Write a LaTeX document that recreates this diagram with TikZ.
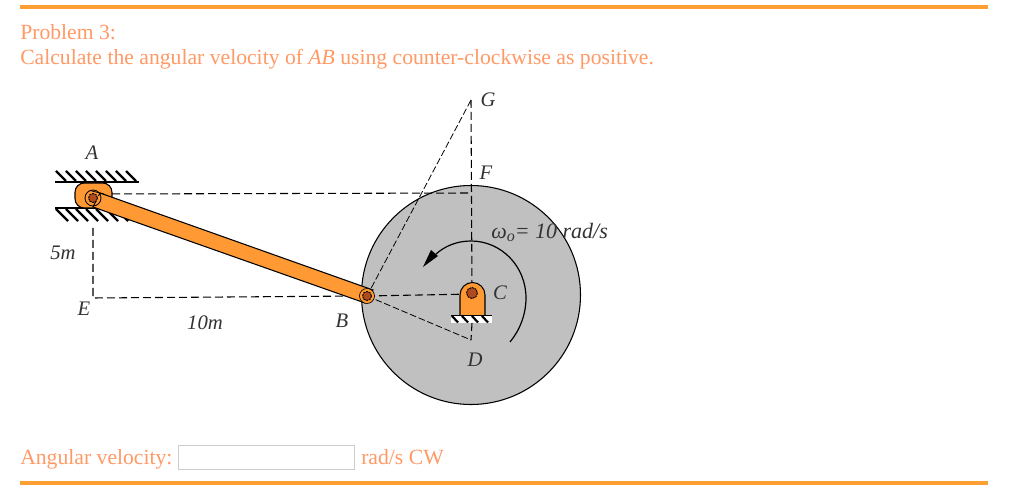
\documentclass[tikz,border=0pt]{standalone}
\usepackage{fontspec}
\setmainfont{Liberation Serif}
\usetikzlibrary{arrows.meta,patterns}
\definecolor{rulecol}{HTML}{FF9F33}
\definecolor{txtcol}{HTML}{FF9A66}
\definecolor{partcol}{HTML}{FF9933}
\definecolor{pincol}{HTML}{B04A1E}
\definecolor{diskcol}{HTML}{C0C0C0}
\tikzset{
  px/.style={x=0.75pt,y=-0.75pt},
  rulebar/.style={rulecol,line width=3pt},
  heading/.style={anchor=base west,inner sep=0pt,text=txtcol,font=\fontsize{16.25}{19}\selectfont},
  lbl/.style={inner sep=0pt,font=\fontsize{15.5}{18}\selectfont\itshape,text=black!80},
  dashline/.style={draw=black,line width=0.8pt,dash pattern=on 6pt off 3pt},
  thindash/.style={draw=black,line width=0.6pt,dash pattern=on 5pt off 2pt},
  part/.style={draw=black,line width=0.8pt,fill=partcol},
  pin/.style={draw=black,line width=0.7pt,fill=pincol,dash pattern=on 1.5pt off 0.6pt},
  wall/.style={draw=black,line width=1.5pt},
  hatch/.style={draw=black,line width=1.6pt}
}
\begin{document}
\begin{tikzpicture}[px]
\useasboundingbox[fill=white] (0,0) rectangle (1024,488);
% rules
\coordinate (rtl) at (20,7); \coordinate (rtr) at (988,7);
\coordinate (rbl) at (20,483); \coordinate (rbr) at (988,483);
\draw[rulebar] (rtl) -- (rtr);
\draw[rulebar] (rbl) -- (rbr);
% text
\node[heading] (t1) at (20,39.5) {Problem 3:};
\node[heading] (t2) at (20,64.5) {Calculate the angular velocity of \textit{AB} using counter-clockwise as positive.};
\node[heading] (t3) at (20,464) {Angular velocity:};
\node[draw=black!20,line width=0.9pt,fill=white,minimum width=132pt,minimum height=18.5pt,inner sep=0pt,anchor=west] (ans) at (178,457.5) {};
\node[heading] (t4) at (361,464) {rad/s CW};
% points
\coordinate (A) at (93,198);
\coordinate (Ah) at (100,194);
\coordinate (B) at (367,296);
\coordinate (C) at (472,294);
\coordinate (D) at (471,340);
\coordinate (E) at (93,298);
\coordinate (Eb) at (360,296);
\coordinate (F) at (471,186);
\coordinate (G) at (471,100);
\coordinate (H) at (471,193);
\coordinate (Etop) at (93,228);
\coordinate (Dtop) at (472,323);
% disk
\fill[diskcol] (471,295) circle [radius=109.5];
\draw[black,line width=0.8pt] (471,295) circle [radius=109.5];
% dashed construction
\draw[dashline] (Ah) -- (H);
\draw[dashline] (Etop) -- (E) -- (Eb);
\draw[dashline] (B) -- (C);
\draw[thindash] (B) -- (D);
\draw[thindash] (B) -- (G);
\draw[dashline] (G) -- (C);
\draw[dashline] (Dtop) -- (D);
% speed arc
\coordinate (a0) at (510,342);
\coordinate (a1) at (526,298);
\coordinate (a2) at (471,241);
\coordinate (a3) at (436,254);
\draw[black,line width=0.9pt] (a0) .. controls (520,330) and (526,314) .. (a1)
  .. controls (526,266) and (501,241) .. (a2)
  .. controls (457,241) and (445,246) .. (a3);
\fill[black] (423,267) -- (431,250) -- (438,256) -- cycle;
% slider guides
\draw[wall] (55,182) -- (139,182);
\draw[wall] (55,208) -- (132,208);
\foreach \x in {56,66,76,86,96,106,116,126}{
  \draw[hatch] (\x,171) -- (\x+10,181);
}
\foreach \x in {56,66,76,86,96,106,116}{
  \draw[hatch] (\x,209) -- (\x+12,221);
}
% slider
\draw[part,rounded corners=7pt] (75,183) rectangle (112,208);
% rod
\draw[part] (100,193) -- (373,290) -- (365,303) -- (93,207) -- cycle;
\fill[partcol] (97,196) -- (102,196) -- (104,205) -- (96,204) -- cycle;
\draw[black,line width=0.6pt] (A) circle [radius=8];
\draw[black,line width=0.6pt] (90,190.5) -- (104,194);
\draw[pin] (A) circle [radius=4.5];
\draw[black,line width=0.5pt,fill=partcol] (B) circle [radius=7.5];
\draw[pin] (B) circle [radius=4.5];
% support
\draw[part] (460,315) -- (460,295) arc[start angle=180,end angle=360,radius=12.5] -- (485,315);
\draw[pin] (472,293) circle [radius=5.5];
\fill[white] (451,316) rectangle (492,322.5);
\draw[black,line width=1pt] (451,315.5) -- (492,315.5);
\foreach \x in {452,462,472,482}{
  \draw[hatch] (\x,316) -- (\x+6,322.5);
}
% labels
\node[lbl] (lA) at (92,153) {A};
\node[lbl] (lG) at (488,100) {G};
\node[lbl] (lF) at (486,173) {F};
\node[lbl] (lC) at (500,293) {C};
\node[lbl] (lD) at (475,360) {D};
\node[lbl] (lB) at (342,321) {B};
\node[lbl] (lE) at (84,309) {E};
\node[lbl] (l5) at (63,253) {5m};
\node[lbl] (l10) at (205,323) {10m};
\node[lbl,anchor=base west,font=\fontsize{16.5}{18}\selectfont\itshape] (lw) at (491,239) {ω\raisebox{-2pt}{\fontsize{12}{12}\selectfont o}= 10 rad/s};
\end{tikzpicture}
\end{document}
